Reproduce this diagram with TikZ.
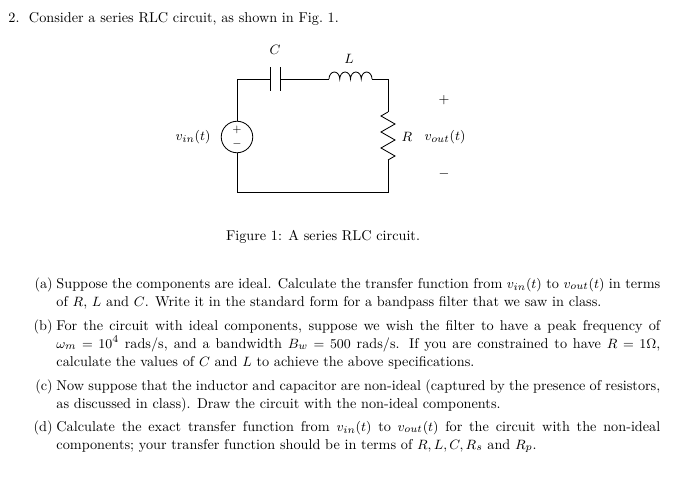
\documentclass[tikz,border=0pt]{standalone}
\begin{document}
\begin{tikzpicture}[x=0.6667pt,y=-0.6667pt,line width=0.55pt,
  font=\fontsize{9.5}{12}\selectfont,
  txt/.style={inner sep=0pt,anchor=base west},
  para/.style={inner sep=0pt,anchor=north west,text width=413.3pt,align=justify,
    execute at begin node={\hyphenpenalty=10000\hangindent=10.7pt\hangafter=1\parindent=0pt}}]
\useasboundingbox (0,0) rectangle (676,484);
\node[txt] (head) at (8,22) {2.\ \ Consider a series RLC circuit, as shown in Fig.~1.};
% circuit
\coordinate (tl) at (237,79);
\coordinate (tr) at (388,79);
\coordinate (bl) at (237,192);
\coordinate (br) at (388,192);
\node[circle,draw,minimum size=21pt,inner sep=0pt] (src) at (237,137) {};
\node[inner sep=0pt] (sp) at (237,130) {\scriptsize $+$};
\node[inner sep=0pt] (sm) at (237,144) {\scriptsize $-$};
\coordinate (c1) at (270,79);
\coordinate (c2) at (280,79);
\coordinate (l1) at (329,79);
\coordinate (l2) at (372,79);
\coordinate (r1) at (388,112);
\coordinate (r2) at (388,160);
\draw (src.north) -- (tl) -- (c1);
\draw (c1) ++(0,-12) -- ++(0,24);
\draw (c2) ++(0,-12) -- ++(0,24);
\draw (c2) -- (l1);
\draw (l1) arc[start angle=180,end angle=0,x radius=5.375,y radius=-7]
           arc[start angle=180,end angle=0,x radius=5.375,y radius=-7]
           arc[start angle=180,end angle=0,x radius=5.375,y radius=-7]
           arc[start angle=180,end angle=0,x radius=5.375,y radius=-7];
\draw (l2) -- (tr) -- (r1);
\draw (r1) -- ++(-7,4) -- ++(14,8) -- ++(-14,8) -- ++(14,8) -- ++(-14,8) -- ++(14,8) -- (r2);
\draw (r2) -- (br) -- (bl) -- (src.south);
\node[inner sep=0pt] (Cl) at (275,50) {$C$};
\node[inner sep=0pt] (Ll) at (349,59) {$L$};
\node[inner sep=0pt] (Rl) at (407,137) {$R$};
\node[inner sep=0pt] (vin) at (193,137) {$v_{in}(t)$};
\node[inner sep=0pt] (vout) at (445,137) {$v_{out}(t)$};
\node[inner sep=0pt] (pl) at (444,100) {$+$};
\node[inner sep=0pt] (mi) at (444,174) {$-$};
\node[inner sep=0pt] (cap) at (323,237) {Figure 1: A series RLC circuit.};
% items
\node[para] (pa) at (40,277) {\makebox[10.7pt][r]{(a)\hspace{2.5pt}}Suppose the components are ideal. Calculate the transfer function from $v_{in}(t)$ to $v_{out}(t)$ in terms\linebreak of $R$, $L$ and $C$. Write it in the standard form for a bandpass filter that we saw in class.};
\node[para] (pb) at (40,319) {\makebox[10.7pt][r]{(b)\hspace{2.5pt}}For the circuit with ideal components, suppose we wish the filter to have a peak frequency of\linebreak $\omega_m=10^4$ rads/s, and a bandwidth $B_w=500$ rads/s. If you are constrained to have $R=1\Omega$,\linebreak calculate the values of $C$ and $L$ to achieve the above specifications.};
\node[para] (pc) at (40,379) {\makebox[10.7pt][r]{(c)\hspace{2.5pt}}Now suppose that the inductor and capacitor are non-ideal (captured by the presence of resistors,\linebreak as discussed in class). Draw the circuit with the non-ideal components.};
\node[para] (pd) at (40,420) {\makebox[10.7pt][r]{(d)\hspace{2.5pt}}Calculate the exact transfer function from $v_{in}(t)$ to $v_{out}(t)$ for the circuit with the non-ideal\linebreak components; your transfer function should be in terms of $R, L, C, R_s$ and $R_p$.};
\end{tikzpicture}
\end{document}
